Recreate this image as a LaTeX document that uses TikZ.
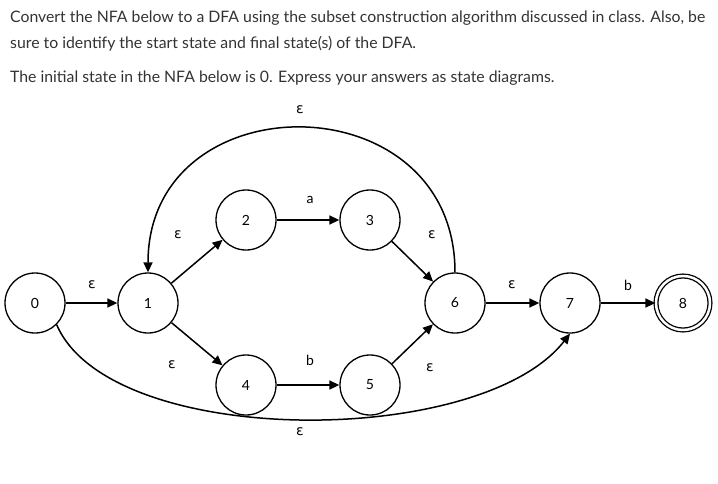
\documentclass[tikz,border=0pt]{standalone}
\usepackage{fontspec}
\setmainfont{Lato}
\newfontfamily\djv{DejaVu Sans}
\usetikzlibrary{arrows.meta}
\newcommand{\eps}{{\djv ε}}
\begin{document}
\begin{tikzpicture}[x=1pt,y=-1pt,
  st/.style={circle,draw,line width=1.3pt,minimum size=60pt,inner sep=0pt,font=\fontsize{14}{16}\selectfont},
  ed/.style={line width=1.5pt,-{Triangle[length=10pt,width=9pt]}},
  lb/.style={font=\fontsize{14}{16}\selectfont},
  txt/.style={anchor=west,inner sep=0pt,font=\fontsize{15.8}{18}\selectfont,color=black!80}]
\useasboundingbox (0,0) rectangle (718,483);
\node[txt] (t1) at (10,18) {Convert the NFA below to a DFA using the subset construction algorithm discussed in class. Also, be};
\node[txt] (t2) at (10,44) {sure to identify the start state and final state(s) of the DFA.};
\node[txt] (t3) at (10,78) {The initial state in the NFA below is 0. Express your answers as state diagrams.};
\node[st] (n0) at (35,303) {0};
\node[st] (n1) at (148,303) {1};
\node[st] (n2) at (246,220) {2};
\node[st] (n3) at (370,220) {3};
\node[st] (n4) at (246,385) {4};
\node[st] (n5) at (370,385) {5};
\node[st] (n6) at (455,303) {6};
\node[st] (n7) at (570,303) {7};
\node[st,double,double distance=2.5pt,minimum size=54pt] (n8) at (683,303) {8};
\draw[ed] (n0) -- (n1);
\draw[ed] (n1) -- (n2);
\draw[ed] (n2) -- (n3);
\draw[ed] (n3) -- (n6);
\draw[ed] (n6) -- (n7);
\draw[ed] (n7) -- (n8);
\draw[ed] (n1) -- (n4);
\draw[ed] (n4) -- (n5);
\draw[ed] (n5) -- (n6);
\draw[ed] (n6.north) .. controls (455,80) and (148,80) .. (n1.north);
\draw[ed] (n0.south east) .. controls (110,449) and (480,449) .. (n7.south);
\node[lb] (l01) at (92,285) {\eps};
\node[lb] (l12) at (178,235) {\eps};
\node[lb] (l23) at (310,200) {a};
\node[lb] (l36) at (432,235) {\eps};
\node[lb] (l67) at (512,285) {\eps};
\node[lb] (l78) at (628,285) {b};
\node[lb] (l14) at (172,365) {\eps};
\node[lb] (l45) at (310,360) {b};
\node[lb] (l56) at (430,368) {\eps};
\node[lb] (l61) at (300,110) {\eps};
\node[lb] (l07) at (300,432) {\eps};
\end{tikzpicture}
\end{document}
